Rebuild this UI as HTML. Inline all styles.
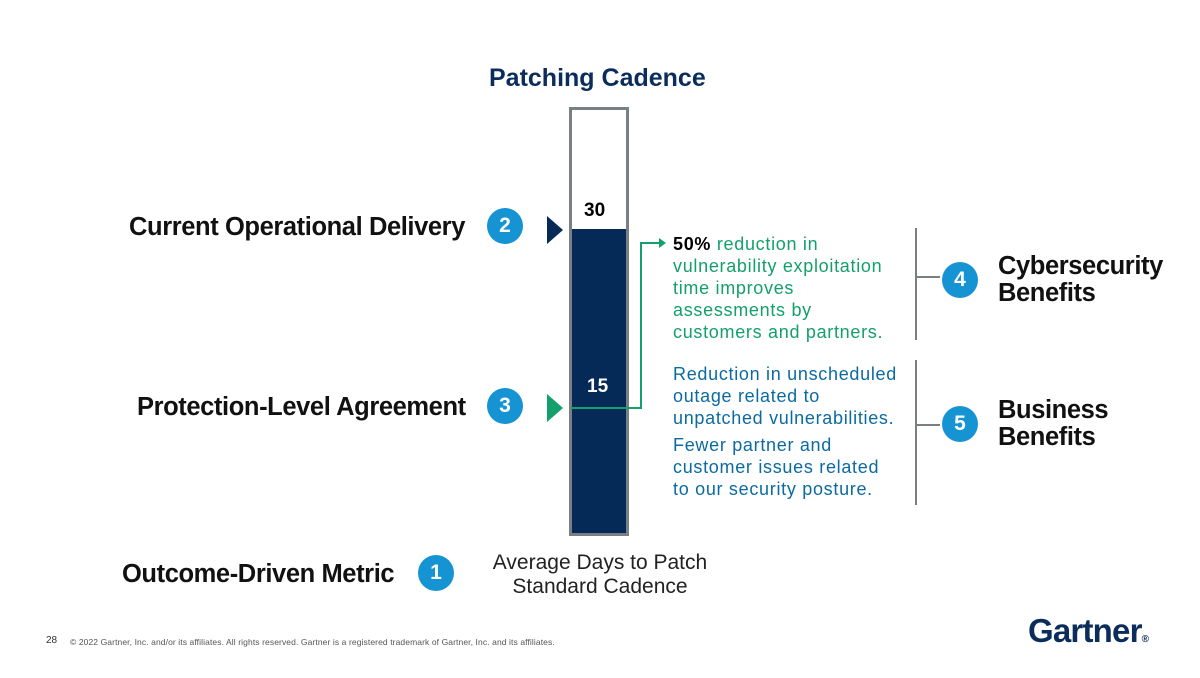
<!DOCTYPE html>
<html><head><meta charset="utf-8"><style>
body{margin:0;width:1200px;height:678px;background:#fff;position:relative;overflow:hidden;font-family:"Liberation Sans",Arial,sans-serif}
.a{position:absolute;white-space:nowrap}
.c{position:absolute;width:36px;height:36px;border-radius:50%;background:#1593d3;color:#fff;font-weight:bold;font-size:21px;text-align:center;line-height:36px}
.h{font-weight:bold;font-size:25.5px;color:#111;letter-spacing:-0.4px}
.t{font-size:18px;line-height:22px;letter-spacing:0.7px}
</style></head><body>
<div class="a" style="left:489px;top:64px;font-size:25px;font-weight:bold;color:#0b2d5b">Patching Cadence</div>
<div class="a" style="left:569px;top:107px;width:54px;height:423px;border:3px solid #7a7f84;background:#fff"></div>
<div class="a" style="left:572px;top:229px;width:54px;height:304px;background:#062a57"></div>
<div class="a" style="left:584px;top:200px;font-size:19px;font-weight:bold;color:#000">30</div>
<div class="a" style="left:587px;top:376px;font-size:19px;font-weight:bold;color:#fff">15</div>
<svg class="a" style="left:0;top:0" width="1200" height="678">
<polygon points="547,216 563,230 547,244" fill="#062a57"/>
<polygon points="547,394 563,408 547,422" fill="#13a06a"/>
<polyline points="571,408 641,408 641,243 660,243" fill="none" stroke="#13a06a" stroke-width="2"/>
<polygon points="659,238 666,243 659,248" fill="#13a06a"/>
<g stroke="#7a7f84" stroke-width="2" fill="none">
<line x1="916" y1="228" x2="916" y2="340"/><line x1="916" y1="277" x2="940" y2="277"/>
<line x1="916" y1="360" x2="916" y2="505"/><line x1="916" y1="425" x2="940" y2="425"/>
</g>
</svg>
<div class="a h" style="left:129px;top:213px">Current Operational Delivery</div>
<div class="c" style="left:487px;top:208px">2</div>
<div class="a h" style="left:137px;top:393px">Protection-Level Agreement</div>
<div class="c" style="left:487px;top:388px">3</div>
<div class="a h" style="left:122px;top:560px">Outcome-Driven Metric</div>
<div class="c" style="left:418px;top:555px">1</div>
<div class="a" style="left:470px;top:551px;font-size:21px;color:#222;text-align:center;line-height:24px;width:260px">Average Days to Patch<br>Standard Cadence</div>
<div class="a t" style="left:673px;top:233px;color:#13a06a"><b style="color:#000">50%</b> reduction in<br>vulnerability exploitation<br>time improves<br>assessments by<br>customers and partners.</div>
<div class="a t" style="left:673px;top:363px;color:#0b6aa2">Reduction in unscheduled<br>outage related to<br>unpatched vulnerabilities.</div>
<div class="a t" style="left:673px;top:434px;color:#0b6aa2">Fewer partner and<br>customer issues related<br>to our security posture.</div>
<div class="c" style="left:942px;top:262px">4</div>
<div class="c" style="left:942px;top:406px">5</div>
<div class="a h" style="left:998px;top:253px;line-height:27px">Cybersecurity<br>Benefits</div>
<div class="a h" style="left:998px;top:397px;line-height:27px">Business<br>Benefits</div>
<div class="a" style="left:46px;top:635px;font-size:10px;color:#333">28</div>
<div class="a" style="left:70px;top:637px;font-size:8.5px;color:#555;letter-spacing:0.1px">© 2022 Gartner, Inc. and/or its affiliates. All rights reserved. Gartner is a registered trademark of Gartner, Inc. and its affiliates.</div>
<div class="a" style="left:1028px;top:612px;font-size:33px;font-weight:bold;color:#0b2d5b;letter-spacing:-0.8px">Gartner<span style="font-size:10px">®</span></div>
</body></html>
